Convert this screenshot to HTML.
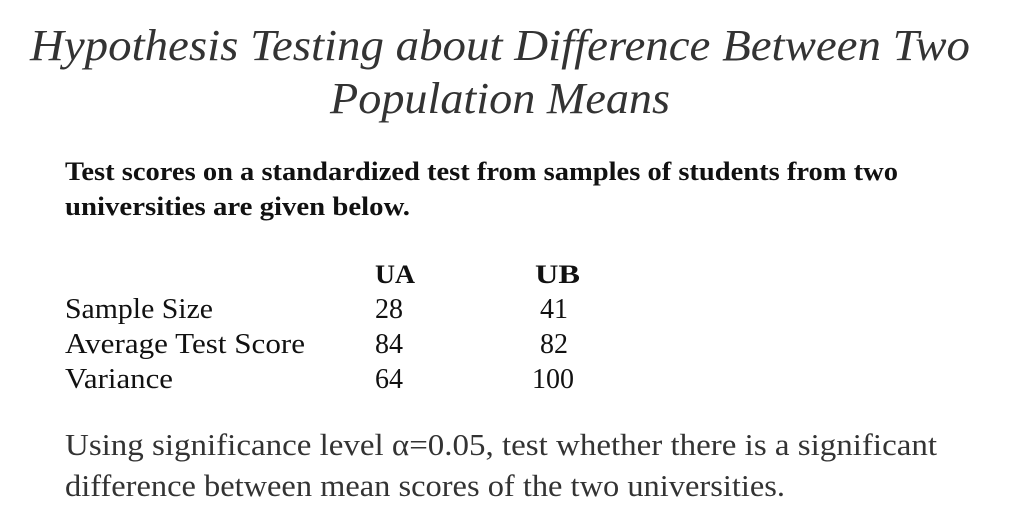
<!DOCTYPE html>
<html><head><meta charset="utf-8"><style>
html,body{margin:0;padding:0;background:#fff;}
svg{display:block}
text{font-family:"Liberation Serif",serif;fill:#111;}
</style></head><body>
<svg width="1024" height="529" viewBox="0 0 1024 529" xmlns="http://www.w3.org/2000/svg">
<g font-style="italic" font-size="44">
<text x="30" y="60" textLength="940" lengthAdjust="spacingAndGlyphs" style="fill:#333">Hypothesis Testing about Difference Between Two</text>
<text x="330" y="113" textLength="340" lengthAdjust="spacingAndGlyphs" style="fill:#333">Population Means</text>
</g>
<g font-size="26" font-weight="bold">
<text x="65" y="180" textLength="833" lengthAdjust="spacingAndGlyphs">Test scores on a standardized test from samples of students from two</text>
<text x="65" y="215" textLength="345" lengthAdjust="spacingAndGlyphs">universities are given below.</text>
<text x="375" y="283" textLength="40" lengthAdjust="spacingAndGlyphs">UA</text>
<text x="535" y="283" textLength="45" lengthAdjust="spacingAndGlyphs">UB</text>
</g>
<g font-size="28">
<text x="65" y="318" textLength="148" lengthAdjust="spacingAndGlyphs">Sample Size</text>
<text x="375" y="318">28</text>
<text x="540" y="318">41</text>
<text x="65" y="353" textLength="240" lengthAdjust="spacingAndGlyphs">Average Test Score</text>
<text x="375" y="353">84</text>
<text x="540" y="353">82</text>
<text x="65" y="388" textLength="108" lengthAdjust="spacingAndGlyphs">Variance</text>
<text x="375" y="388">64</text>
<text x="532" y="388">100</text>
</g>
<g font-size="31">
<text x="65" y="455" textLength="872" lengthAdjust="spacingAndGlyphs" style="fill:#333">Using significance level α=0.05, test whether there is a significant</text>
<text x="65" y="496" textLength="720" lengthAdjust="spacingAndGlyphs" style="fill:#333">difference between mean scores of the two universities.</text>
</g>
</svg>
</body></html>
